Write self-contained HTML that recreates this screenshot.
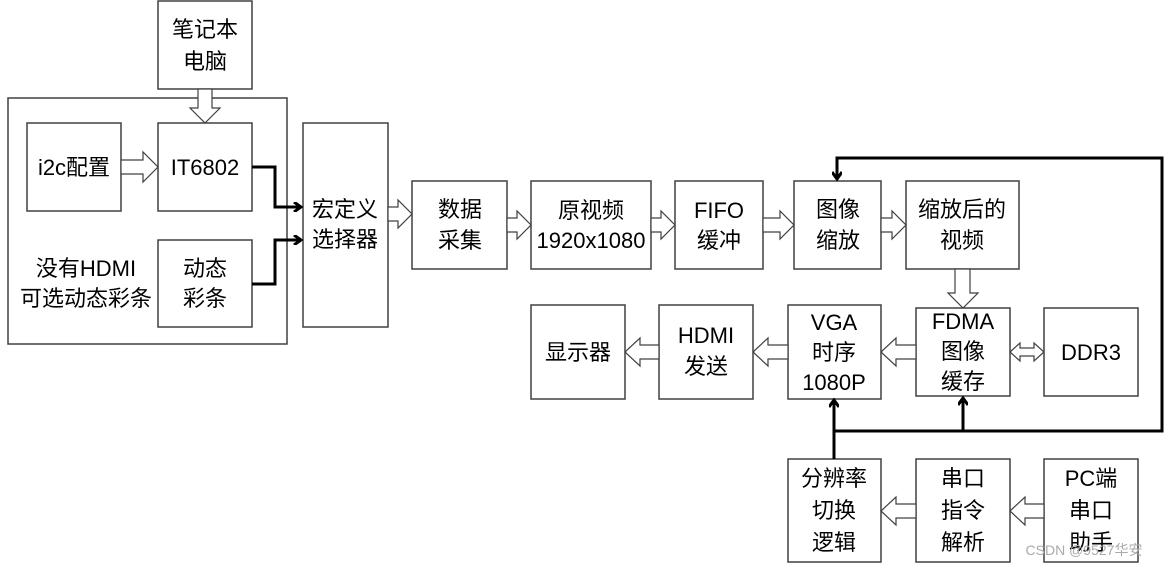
<!DOCTYPE html>
<html><head><meta charset="utf-8"><style>
html,body{margin:0;padding:0;background:#fff;}
svg text{font-family:"Liberation Sans","Noto Sans CJK SC",sans-serif;font-size:22px;fill:#000;text-anchor:middle;}
</style></head><body>
<svg width="1167" height="567" viewBox="0 0 1167 567" xmlns="http://www.w3.org/2000/svg">
<defs><marker id="ah" markerWidth="10" markerHeight="10" refX="7" refY="5" orient="auto" markerUnits="userSpaceOnUse"><path d="M1,0 L8,5 L1,10" fill="none" stroke="#000" stroke-width="3"/></marker></defs>
<g fill="#fff" stroke="#404040" stroke-width="1.5">
<rect x="158" y="1" width="94" height="88"/>
<rect x="8" y="98" width="279" height="246"/>
<rect x="27" y="123" width="94" height="88"/>
<rect x="158" y="123" width="94" height="88"/>
<rect x="158" y="240" width="94" height="87"/>
<rect x="303" y="123" width="85" height="204"/>
<rect x="412" y="181" width="95" height="88"/>
<rect x="531" y="181" width="120" height="88"/>
<rect x="675" y="181" width="88" height="88"/>
<rect x="794" y="181" width="87" height="88"/>
<rect x="906" y="181" width="113" height="88"/>
<rect x="531" y="305" width="94" height="94"/>
<rect x="659" y="305" width="94" height="94"/>
<rect x="788" y="305" width="93" height="94"/>
<rect x="916" y="308" width="94" height="88"/>
<rect x="1044" y="308" width="94" height="88"/>
<rect x="788" y="459" width="93" height="103"/>
<rect x="916" y="459" width="94" height="103"/>
<rect x="1044" y="459" width="94" height="103"/>
</g>
<g fill="#fff" stroke="#404040" stroke-width="1.2">
<!-- down arrow from laptop -->
<polygon points="198,89 212,89 212,108 220,108 205,123 190,108 198,108"/>
<!-- i2c -> IT6802 -->
<polygon points="121,160 143,160 143,152 158,167 143,182 143,174 121,174"/>
<!-- right arrows -->
<polygon points="388,207 398,207 398,200 412,214 398,228 398,221 388,221"/>
<polygon points="507,218 517,218 517,211 531,225 517,239 517,232 507,232"/>
<polygon points="651,218 661,218 661,211 675,225 661,239 661,232 651,232"/>
<polygon points="763,218 780,218 780,211 794,225 780,239 780,232 763,232"/>
<polygon points="881,218 892,218 892,211 906,225 892,239 892,232 881,232"/>
<!-- down from 缩放后的视频 -> FDMA -->
<polygon points="955,269 970,269 970,293 978,293 963,308 948,293 955,293"/>
<!-- left arrows -->
<polygon points="916,345 896,345 896,338 881,352 896,366 896,359 916,359"/>
<polygon points="788,345 768,345 768,338 753,352 768,366 768,359 788,359"/>
<polygon points="659,345 640,345 640,338 625,352 640,366 640,359 659,359"/>
<polygon points="916,504 896,504 896,497 881,511 896,525 896,518 916,518"/>
<polygon points="1044,504 1025,504 1025,497 1010,511 1025,525 1025,518 1044,518"/>
<!-- double arrow FDMA<->DDR3 -->
<polygon points="1010,352 1020,343 1020,348 1034,348 1034,343 1044,352 1034,361 1034,356 1020,356 1020,361"/>
</g>
<g fill="none" stroke="#000" stroke-width="3">
<polyline points="252,167 275,167 275,207 300,207" marker-end="url(#ah)"/>
<polyline points="252,284 275,284 275,240 300,240" marker-end="url(#ah)"/>
<polyline points="834,459 834,401" marker-end="url(#ah)"/>
<polyline points="834,431 1162,431 1162,158 837,158 837,178" marker-end="url(#ah)"/>
<polyline points="963,431 963,399" marker-end="url(#ah)"/>
</g>
<text x="205" y="37">笔记本</text><text x="205" y="69">电脑</text>
<text x="74" y="175">i2c配置</text>
<text x="205" y="175">IT6802</text>
<text x="205" y="276">动态</text><text x="205" y="306">彩条</text>
<text x="86" y="276">没有HDMI</text><text x="86" y="306">可选动态彩条</text>
<text x="345" y="217">宏定义</text><text x="345" y="247">选择器</text>
<text x="460" y="217">数据</text><text x="460" y="248">采集</text>
<text x="591" y="218">原视频</text><text x="591" y="248">1920x1080</text>
<text x="719" y="218">FIFO</text><text x="719" y="248">缓冲</text>
<text x="838" y="217">图像</text><text x="838" y="248">缩放</text>
<text x="962" y="217">缩放后的</text><text x="962" y="248">视频</text>
<text x="578" y="360">显示器</text>
<text x="706" y="343">HDMI</text><text x="706" y="374">发送</text>
<text x="834" y="330">VGA</text><text x="834" y="360">时序</text><text x="834" y="390">1080P</text>
<text x="963" y="329">FDMA</text><text x="963" y="359">图像</text><text x="963" y="389">缓存</text>
<text x="1091" y="360">DDR3</text>
<text x="834" y="486">分辨率</text><text x="834" y="518">切换</text><text x="834" y="550">逻辑</text>
<text x="963" y="486">串口</text><text x="963" y="518">指令</text><text x="963" y="550">解析</text>
<text x="1091" y="486">PC端</text><text x="1091" y="518">串口</text><text x="1091" y="550">助手</text>
<text x="1084" y="555" style="font-size:14px;fill:#aaa">CSDN @9527华安</text>
</svg>
</body></html>
